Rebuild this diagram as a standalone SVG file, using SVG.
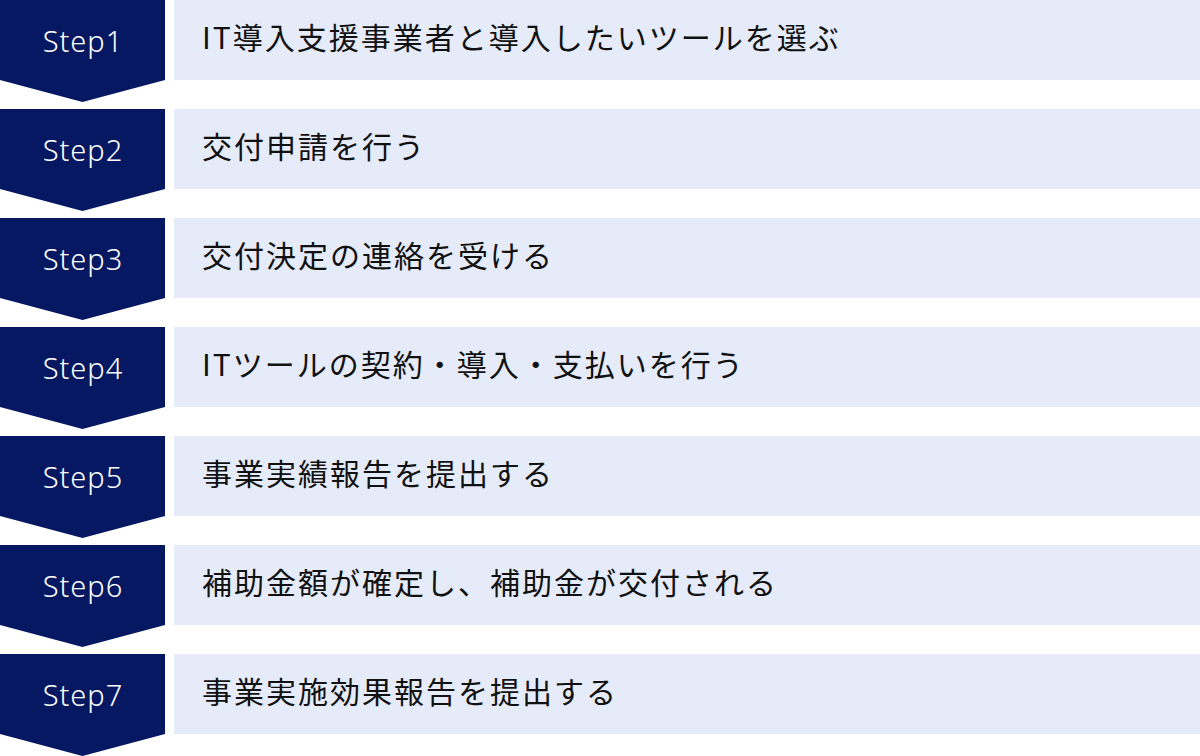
<svg xmlns="http://www.w3.org/2000/svg" width="1200" height="756" viewBox="0 0 1200 756">
<style>
.chev{fill:#051861}
.bar{fill:#E5EBF9}
.step{font-family:"Noto Sans","Open Sans",sans-serif;font-size:29px;font-weight:300;fill:#ffffff;text-anchor:middle;letter-spacing:1px}
.lbl{font-family:"Noto Sans CJK JP","Noto Sans",sans-serif;font-size:30px;fill:#111111;letter-spacing:2px}
</style>
<defs>
<polygon id="chevShape" points="0,0 165,0 165,80 82.5,102 0,80"/>
</defs>
<g id="connectors"></g>
<g id="step1" transform="translate(0,0)">
<use href="#chevShape" class="chev"/>
<rect class="bar" x="174" y="0" width="1026" height="80"/>
<text class="step" x="83" y="52">Step1</text>
<text class="lbl" x="202" y="49">IT導入支援事業者と導入したいツールを選ぶ</text>
</g>
<g id="step2" transform="translate(0,109)">
<use href="#chevShape" class="chev"/>
<rect class="bar" x="174" y="0" width="1026" height="80"/>
<text class="step" x="83" y="52">Step2</text>
<text class="lbl" x="202" y="49">交付申請を行う</text>
</g>
<g id="step3" transform="translate(0,218)">
<use href="#chevShape" class="chev"/>
<rect class="bar" x="174" y="0" width="1026" height="80"/>
<text class="step" x="83" y="52">Step3</text>
<text class="lbl" x="202" y="49">交付決定の連絡を受ける</text>
</g>
<g id="step4" transform="translate(0,327)">
<use href="#chevShape" class="chev"/>
<rect class="bar" x="174" y="0" width="1026" height="80"/>
<text class="step" x="83" y="52">Step4</text>
<text class="lbl" x="202" y="49">ITツールの契約・導入・支払いを行う</text>
</g>
<g id="step5" transform="translate(0,436)">
<use href="#chevShape" class="chev"/>
<rect class="bar" x="174" y="0" width="1026" height="80"/>
<text class="step" x="83" y="52">Step5</text>
<text class="lbl" x="202" y="49">事業実績報告を提出する</text>
</g>
<g id="step6" transform="translate(0,545)">
<use href="#chevShape" class="chev"/>
<rect class="bar" x="174" y="0" width="1026" height="80"/>
<text class="step" x="83" y="52">Step6</text>
<text class="lbl" x="202" y="49">補助金額が確定し、補助金が交付される</text>
</g>
<g id="step7" transform="translate(0,654)">
<use href="#chevShape" class="chev"/>
<rect class="bar" x="174" y="0" width="1026" height="80"/>
<text class="step" x="83" y="52">Step7</text>
<text class="lbl" x="202" y="49">事業実施効果報告を提出する</text>
</g>
</svg>
